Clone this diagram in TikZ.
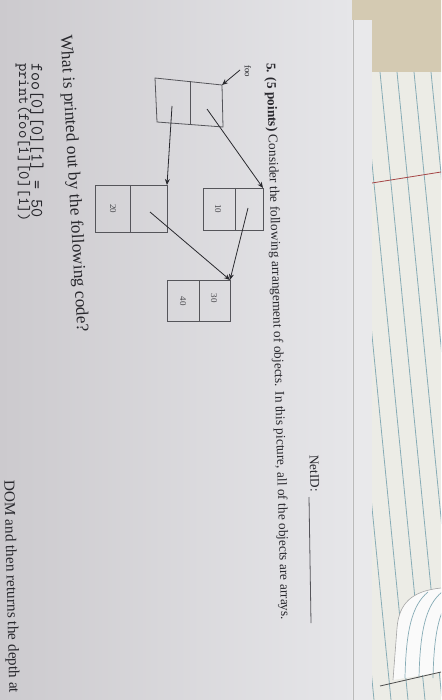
\documentclass[tikz,border=0pt]{standalone}
\usepackage{fontspec}
\setmainfont{Liberation Serif}
\usetikzlibrary{arrows.meta}
\definecolor{paperL}{RGB}{204,202,206}
\definecolor{paperR}{RGB}{230,230,233}
\definecolor{sheet}{RGB}{233,233,235}
\definecolor{beige}{RGB}{212,202,178}
\definecolor{nbpaper}{RGB}{236,236,230}
\definecolor{nbline}{RGB}{135,172,182}
\definecolor{nbred}{RGB}{165,70,70}
\definecolor{ink}{RGB}{40,40,45}
\definecolor{boxline}{RGB}{85,85,90}
\tikzset{
  txt/.style={inner sep=0pt, text=ink, anchor=west},
  cellbox/.style={draw=boxline, line width=0.8pt},
  ptr/.style={draw=ink, line width=0.8pt, -{Stealth[length=6pt,width=5pt]}},
  num/.style={inner sep=0pt, text=ink!85, rotate=-90},
}
\begin{document}
\begin{tikzpicture}[x=1pt,y=-1pt]
\useasboundingbox (0,0) rectangle (441,700);
\clip (0,0) rectangle (441,700);
% background: exam sheet, second sheet, table, notebook
\shade[left color=paperL, right color=paperR] (0,0) rectangle (353,700);
\fill[sheet] (352,20) rectangle (373,700);
\draw[gray!55, line width=0.5pt] (353,20) -- (353,700);
\fill[beige] (352,0) -- (441,0) -- (441,72) -- (372,72) -- (372,20) -- (352,20) -- cycle;
\fill[nbpaper] (372,72) rectangle (441,700);
\begin{scope}
  \clip (372,72) rectangle (441,700);
  \foreach \k in {-6,...,3}
    \draw[nbline, line width=0.8pt] ({380+17*\k},72) -- ({380+17*\k+62},700);
  \draw[nbred, line width=0.8pt] (372,183) -- (441,172);
  \fill[white!96!gray] (441,588) .. controls (412,591) and (399,603) .. (397,628) -- (393,680) -- (441,672) -- cycle;
  \draw[gray!70, line width=0.6pt] (441,588) .. controls (412,591) and (399,603) .. (397,628) -- (393,680);
  \foreach \s in {0,14,28}
    \draw[nbline, line width=0.7pt] ({405+\s},678) .. controls ({406+\s},630) and ({412+\s},605) .. ({428+\s},592);
  \draw[black!70, line width=0.8pt] (380,686) -- (441,672);
\end{scope}

% texts
\node[txt, rotate=-88.5] (head) at (270,63) {\resizebox{557pt}{!}{\textbf{5. (5 points)} Consider the following arrangement of objects. In this picture, all of the objects are arrays.}};
\node[txt, rotate=-88.5] (netid) at (314,455) {\resizebox{37pt}{!}{NetID:}};
\coordinate (netA) at (309,497);
\coordinate (netB) at (311,623);
\draw[boxline, line width=0.8pt] (netA) -- (netB);
\node[txt, rotate=-86.8] (question) at (65,35) {\resizebox{297pt}{!}{What is printed out by the following code?}};
\node[txt, rotate=-90] (code1) at (37,63) {\resizebox{154pt}{!}{\ttfamily foo[0][0][1] = 50}};
\node[txt, rotate=-90] (code2) at (23,63) {\resizebox{159pt}{!}{\ttfamily print(foo[1][0][1])}};
\node[txt, rotate=-88.6] (nextq) at (8,480) {\resizebox{213pt}{!}{DOM and then returns the depth at}};

% foo label
\node[inner sep=0pt, text=ink, rotate=-88.5] (foo) at (248,71) {\resizebox{12pt}{!}{foo}};
\coordinate (fooTail) at (240,70);

% box A (foo array)
\coordinate (A1) at (155,78);
\coordinate (A2) at (222,85);
\coordinate (A3) at (223,127);
\coordinate (A4) at (157,122);
\draw[cellbox] (A1) -- (A2) -- (A3) -- (A4) -- cycle;
\draw[cellbox] (190,81.5) -- (190,124.5);
\coordinate (Aref0) at (207,109);
\coordinate (Aref1) at (172,106);

% box B (10)
\draw[cellbox] (203,188) rectangle (263,230);
\draw[cellbox] (235,188) -- (235,230);
\coordinate (Bcorner) at (263,188);
\coordinate (Bref) at (248,208);
\node[num] (n10) at (218,209) {\resizebox{9pt}{!}{10}};

% box C (20)
\draw[cellbox] (95,185) rectangle (167,232);
\draw[cellbox] (130,185) -- (130,232);
\coordinate (Ccorner) at (167,185);
\coordinate (Cref) at (150,212);
\node[num] (n20) at (113,209) {\resizebox{9pt}{!}{20}};

% box D (30/40)
\draw[cellbox] (167,280) rectangle (230,321);
\draw[cellbox] (199,280) -- (199,321);
\coordinate (Dcorner) at (230,280);
\node[num] (n30) at (214,298) {\resizebox{9pt}{!}{30}};
\node[num] (n40) at (183,301) {\resizebox{9pt}{!}{40}};

% pointers
\draw[ptr] (fooTail) -- (A2);
\draw[ptr] (Aref0) -- (Bcorner);
\draw[ptr] (Aref1) -- (Ccorner);
\draw[ptr] (Bref) -- (Dcorner);
\draw[ptr] (Cref) -- (Dcorner);
\end{tikzpicture}
\end{document}
